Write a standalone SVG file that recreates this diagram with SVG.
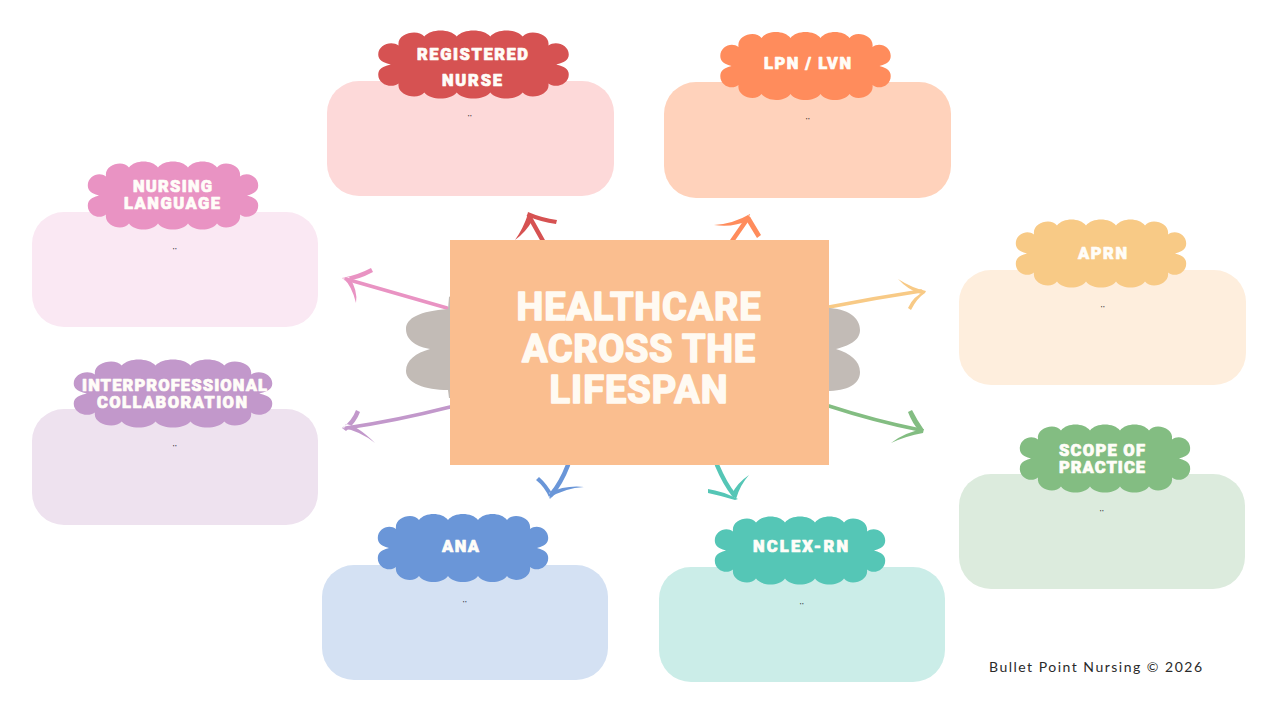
<svg xmlns="http://www.w3.org/2000/svg" width="1280" height="720" viewBox="0 0 1280 720">
<style>
.lbl{font-family:"Roboto","Lato",sans-serif;font-weight:900;fill:#fffdf8;stroke:#fffdf8;stroke-width:.7;stroke-linejoin:round;font-size:16.5px;text-anchor:middle}
.title{font-family:"Roboto","Lato",sans-serif;font-weight:700;fill:#fffaf2;stroke:#fffaf2;stroke-width:1.6;stroke-linejoin:round;font-size:38px;text-anchor:middle}
.dots{font-family:"Liberation Sans",sans-serif;font-size:6px;letter-spacing:.6px;fill:#000;stroke:#000;stroke-width:.25;text-anchor:middle}
.foot{font-family:"Lato","Noto Sans",sans-serif;font-size:14px;fill:#2a2a2a}
.shaft{fill:none;stroke-width:3.6;stroke-linecap:round}
.barb{stroke:none}
</style>
<defs>
<path id="cloud" d="M-67,-19C-69,-31 -50,-36 -44,-28C-38,-36 -21,-36 -15,-28C-9,-36 9,-36 15,-28C21,-36 38,-36 44,-28C50,-36 69,-31 67,-19C74,-25 87,-19 85,-8C84,-3 78,-1 74,0C78,1 84,3 85,8C87,19 74,25 67,19C69,31 50,36 44,28C38,36 21,36 15,28C9,36 -9,36 -15,28C-21,36 -38,36 -44,28C-50,36 -69,31 -67,19C-74,25 -87,19 -85,8C-84,3 -78,1 -74,0C-78,-1 -84,-3 -85,-8C-87,-19 -74,-25 -67,-19Z"/>
</defs>
<rect width="1280" height="720" fill="#fff"/>
<g id="connectors">
<g stroke="#d65252" fill="#d65252"><path class="shaft" style="stroke-width:4.5" d="M543,241L529,216"/><path class="barb" d="M528,212Q542,218 557,220L556,224Q541,222 527,216ZM528,214Q523,229 515,240Q526,232 532,221Z"/></g>
<g stroke="#ff8c5c" fill="#ff8c5c"><path class="shaft" style="stroke-width:4.5" d="M732,241L748,218"/><path class="barb" d="M750,214Q733,224 714,225Q733,228 749,220ZM749,215L761,235L757,238L746,220Z"/></g>
<g stroke="#e993c3" fill="#e993c3"><path class="shaft" d="M447,308Q395,293 346,279"/><path class="barb" d="M342,278Q358,275 371,268L373,272Q358,280 346,281ZM343,278Q352,286 356,303Q358,290 349,277Z"/></g>
<g stroke="#c298cb" fill="#c298cb"><path class="shaft" d="M450,407Q395,421 346,428"/><path class="barb" d="M342,428Q352,421 356,410L360,412Q356,423 346,431ZM343,428Q360,431 375,443Q358,426 346,424Z"/></g>
<g stroke="#6a96d8" fill="#6a96d8"><path class="shaft" style="stroke-width:4.5" d="M568,465Q561,483 551,495"/><path class="barb" d="M550,499Q545,487 536,480L539,477Q547,484 553,495ZM549,498Q565,488 584,487Q565,485 549,493Z"/></g>
<g stroke="#f8ca86" fill="#f8ca86"><path class="shaft" d="M829,307Q875,298 921,291"/><path class="barb" d="M926,291Q912,288 898,279Q908,290 921,294ZM926,291Q913,296 908,308L911,310Q917,298 925,293Z"/></g>
<g stroke="#83bd82" fill="#83bd82"><path class="shaft" d="M829,406Q875,421 920,430"/><path class="barb" d="M924,430Q917,420 912,410L908,412Q912,423 920,432ZM924,429Q905,432 891,443Q906,436 923,433Z"/></g>
<g stroke="#55c6b6" fill="#55c6b6"><path class="shaft" style="stroke-width:4.5" d="M717,465Q725,484 734,495"/><path class="barb" d="M738,499Q722,491 708,489L708,493Q722,496 735,500ZM736,499Q740,485 749,475Q737,483 732,494Z"/></g>
</g>
<g id="center-node">
<path fill="#c2bbb6" d="M452,295L449,297L448,309C420,311 406,318 406,329C406,341 418,347 430,349C416,353 406,360 406,371C406,383 425,390 448,390L449,398L452,398ZM826,308C848,308 860,318 860,330C860,341 848,346 836,349C850,353 860,361 860,372C860,384 848,391 826,391Z"/>
<rect x="450" y="240" width="379" height="225" fill="#fabe8f"/>
<text class="title" x="638.5" y="319.5" textLength="244">HEALTHCARE</text>
<text class="title" x="638.5" y="361.5" textLength="233">ACROSS THE</text>
<text class="title" x="638.5" y="402.5" textLength="178">LIFESPAN</text>
</g>
<g id="registered-nurse">
<rect x="327" y="81" width="287" height="115" rx="32" fill="#fdd9d9"/>
<use href="#cloud" transform="translate(473.5,64.5) scale(1.118,1)" fill="#d65252"/>
<text class="lbl" x="472.5" y="60" textLength="111">REGISTERED</text>
<text class="lbl" x="472" y="86" textLength="60">NURSE</text>
<text class="dots" x="470" y="116">..</text>
</g>
<g id="lpn-lvn">
<rect x="664" y="82" width="287" height="116" rx="32" fill="#ffd2bb"/>
<use href="#cloud" transform="translate(805.5,66)" fill="#ff8c5c"/>
<text class="lbl" x="807.5" y="69" textLength="87">LPN / LVN</text>
<text class="dots" x="808" y="119">..</text>
</g>
<g id="nursing-language">
<rect x="32" y="212" width="286" height="115" rx="32" fill="#fae8f3"/>
<use href="#cloud" transform="translate(173,195.5)" fill="#e993c3"/>
<text class="lbl" x="172.5" y="191.5" textLength="79">NURSING</text>
<text class="lbl" x="172" y="208.5" textLength="96">LANGUAGE</text>
<text class="dots" x="175" y="249">..</text>
</g>
<g id="interprofessional-collaboration">
<rect x="32" y="409" width="286" height="116" rx="32" fill="#eee2ef"/>
<use href="#cloud" transform="translate(173,393.5) scale(1.165,1)" fill="#c298cb"/>
<text class="lbl" x="174.5" y="390.5" textLength="185">INTERPROFESSIONAL</text>
<text class="lbl" x="172" y="407.5" textLength="150">COLLABORATION</text>
<text class="dots" x="175" y="446">..</text>
</g>
<g id="aprn">
<rect x="959" y="270" width="287" height="115" rx="32" fill="#feeedd"/>
<use href="#cloud" transform="translate(1101,253.5)" fill="#f8ca86"/>
<text class="lbl" x="1102.5" y="259" textLength="49">APRN</text>
<text class="dots" x="1103" y="307">..</text>
</g>
<g id="scope-of-practice">
<rect x="959" y="474" width="286" height="115" rx="32" fill="#dcebdd"/>
<use href="#cloud" transform="translate(1105,458.5)" fill="#83bd82"/>
<text class="lbl" x="1102" y="455.5" textLength="86">SCOPE OF</text>
<text class="lbl" x="1102" y="473" textLength="86">PRACTICE</text>
<text class="dots" x="1102" y="511">..</text>
</g>
<g id="ana">
<rect x="322" y="565" width="286" height="115" rx="32" fill="#d4e1f3"/>
<use href="#cloud" transform="translate(463,548)" fill="#6a96d8"/>
<text class="lbl" x="460.5" y="552" textLength="37">ANA</text>
<text class="dots" x="465" y="602">..</text>
</g>
<g id="nclex-rn">
<rect x="659" y="567" width="286" height="115" rx="32" fill="#cbede8"/>
<use href="#cloud" transform="translate(800,550.5)" fill="#55c6b6"/>
<text class="lbl" x="800.5" y="552" textLength="95">NCLEX-RN</text>
<text class="dots" x="802" y="604">..</text>
</g>
<text class="foot" x="989" y="672" textLength="213">Bullet Point Nursing © 2026</text>
</svg>
